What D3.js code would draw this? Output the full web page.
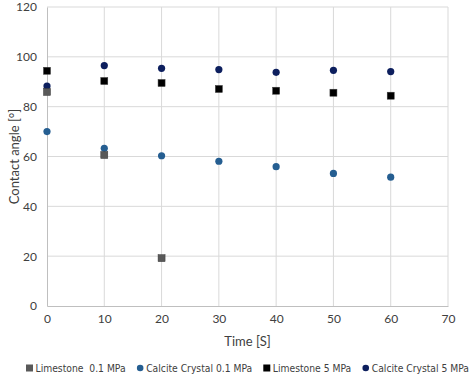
<!DOCTYPE html>
<html>
<head>
<meta charset="utf-8">
<script src="https://cdn.jsdelivr.net/npm/d3@7"></script>
<style>
  body { margin: 0; background: #fff; }
  text { font-family: Lato, "Open Sans", sans-serif; fill: #404040; }
</style>
</head>
<body>
<div id="plot"></div>
<script>
// chart data
var times = [0, 10, 20, 30, 40, 50, 60];
var limestone01 = [85.9, 60.6, 19.2];
var calcite01 = [70.0, 63.3, 60.3, 58.1, 55.9, 53.2, 51.7];
var limestone5 = [94.4, 90.3, 89.5, 87.1, 86.4, 85.6, 84.4];
var calcite5 = [88.3, 96.5, 95.4, 94.9, 93.8, 94.6, 94.1];
var xTicks = [0, 10, 20, 30, 40, 50, 60, 70];
var yTicks = [0, 20, 40, 60, 80, 100, 120];
var seriesNames = ["Limestone  0.1 MPa", "Calcite Crystal 0.1 MPa", "Limestone 5 MPa", "Calcite Crystal 5 MPa"];

var svgWidth = 474;
var svgHeight = 376;

var margin = { top: 7, right: 26, bottom: 70, left: 47 };
var width = svgWidth - margin.left - margin.right;
var height = svgHeight - margin.top - margin.bottom;

var svg = d3.select("#plot")
  .append("svg")
  .attr("width", svgWidth)
  .attr("height", svgHeight);

var chartGroup = svg.append("g")
  .attr("transform", `translate(${margin.left}, ${margin.top})`);

var xScale = d3.scaleLinear().domain([0, 70]).range([0, width]);
var yScale = d3.scaleLinear().domain([0, 120]).range([height, 0]);

// gridlines
chartGroup.selectAll(".vgrid")
  .data(xTicks.slice(1))
  .enter()
  .append("line")
  .attr("x1", d => xScale(d)).attr("x2", d => xScale(d))
  .attr("y1", 0).attr("y2", height)
  .attr("stroke", "#d9d9d9").attr("stroke-width", 1);

chartGroup.selectAll(".hgrid")
  .data(yTicks.slice(1))
  .enter()
  .append("line")
  .attr("x1", 0).attr("x2", width)
  .attr("y1", d => yScale(d)).attr("y2", d => yScale(d))
  .attr("stroke", "#d9d9d9").attr("stroke-width", 1);

// axes
var bottomAxis = d3.axisBottom(xScale).tickValues(xTicks).tickSize(0).tickPadding(8);
var leftAxis = d3.axisLeft(yScale).tickValues(yTicks).tickSize(0).tickPadding(10);

var gx = chartGroup.append("g")
  .attr("transform", `translate(0, ${height})`)
  .call(bottomAxis);
var gy = chartGroup.append("g").call(leftAxis);

[gx, gy].forEach(function(g) {
  g.select(".domain").attr("stroke", "#bfbfbf");
  g.selectAll("text").style("font-size", "12px").style("font-family", "Lato, sans-serif").attr("fill", "#595959");
});

// series marks (gray limestone drawn last, it sits on top in the picture)
var sets = [
  { vals: calcite01, color: "#255e91", shape: "circle" },
  { vals: limestone5, color: "#000000", shape: "square" },
  { vals: calcite5, color: "#0d1f5e", shape: "circle" },
  { vals: limestone01, color: "#595959", shape: "square" }
];

sets.forEach(function(s) {
  var pts = s.vals.map((v, i) => ({ t: times[i], v: v }));
  if (s.shape === "circle") {
    chartGroup.selectAll(null)
      .data(pts).enter()
      .append("circle")
      .attr("cx", d => xScale(d.t))
      .attr("cy", d => yScale(d.v))
      .attr("r", 3.6)
      .attr("fill", s.color);
  } else {
    chartGroup.selectAll(null)
      .data(pts).enter()
      .append("rect")
      .attr("x", d => xScale(d.t) - 3.5)
      .attr("y", d => yScale(d.v) - 3.5)
      .attr("width", 7).attr("height", 7)
      .attr("fill", s.color)
      .attr("stroke", "#3a3a3a").attr("stroke-width", 0.5);
  }
});

// axis labels
svg.append("text")
  .attr("transform", `translate(14, ${margin.top + height / 2}) rotate(-90)`)
  .attr("text-anchor", "middle")
  .attr("dy", "0.35em")
  .style("font-size", "13px")
  .text("Contact angle [°]");

svg.append("text")
  .attr("x", margin.left + width / 2)
  .attr("y", 346)
  .attr("text-anchor", "middle")
  .style("font-size", "13px")
  .text("Time [S]");

// legend in a narrow face so the row fits the width used by the picture
var legendItems = [
  { name: seriesNames[0], color: "#595959", shape: "square" },
  { name: seriesNames[1], color: "#255e91", shape: "circle" },
  { name: seriesNames[2], color: "#000000", shape: "square" },
  { name: seriesNames[3], color: "#0d1f5e", shape: "circle" }
];
var legendStart = 26;
var legendEnd = 469;
var markerW = 7, textGap = 2.5, itemGap = 11;
var ly = 372;
var fontSize = 12.5;
var legend = svg.append("g");

var texts = legendItems.map(function(item) {
  return legend.append("text")
    .attr("y", ly)
    .style("font-family", "'Liberation Sans Narrow', 'DejaVu Sans Condensed', sans-serif")
    .style("font-size", fontSize + "px")
    .style("white-space", "pre")
    .text(item.name);
});
var natural = texts.map(t => t.node().getComputedTextLength());
var fixed = legendItems.length * (markerW + textGap) + (legendItems.length - 1) * itemGap;
var ratio = Math.min(1, (legendEnd - legendStart - fixed) / d3.sum(natural));
texts.forEach(t => t.style("font-size", (fontSize * ratio) + "px"));
var widths = texts.map(t => t.node().getComputedTextLength());
// spread any leftover room into the gaps
var spare = (legendEnd - legendStart - fixed - d3.sum(widths)) / (legendItems.length - 1);
itemGap += Math.max(0, spare);

var lx = legendStart;
legendItems.forEach(function(item, i) {
  if (item.shape === "square") {
    legend.append("rect").attr("x", lx).attr("y", ly - 7.5).attr("width", 7).attr("height", 7).attr("fill", item.color);
  } else {
    legend.append("circle").attr("cx", lx + 3.5).attr("cy", ly - 4).attr("r", 3.3).attr("fill", item.color);
  }
  texts[i].attr("x", lx + markerW + textGap);
  lx += markerW + textGap + widths[i] + itemGap;
});
</script>
</body>
</html>
